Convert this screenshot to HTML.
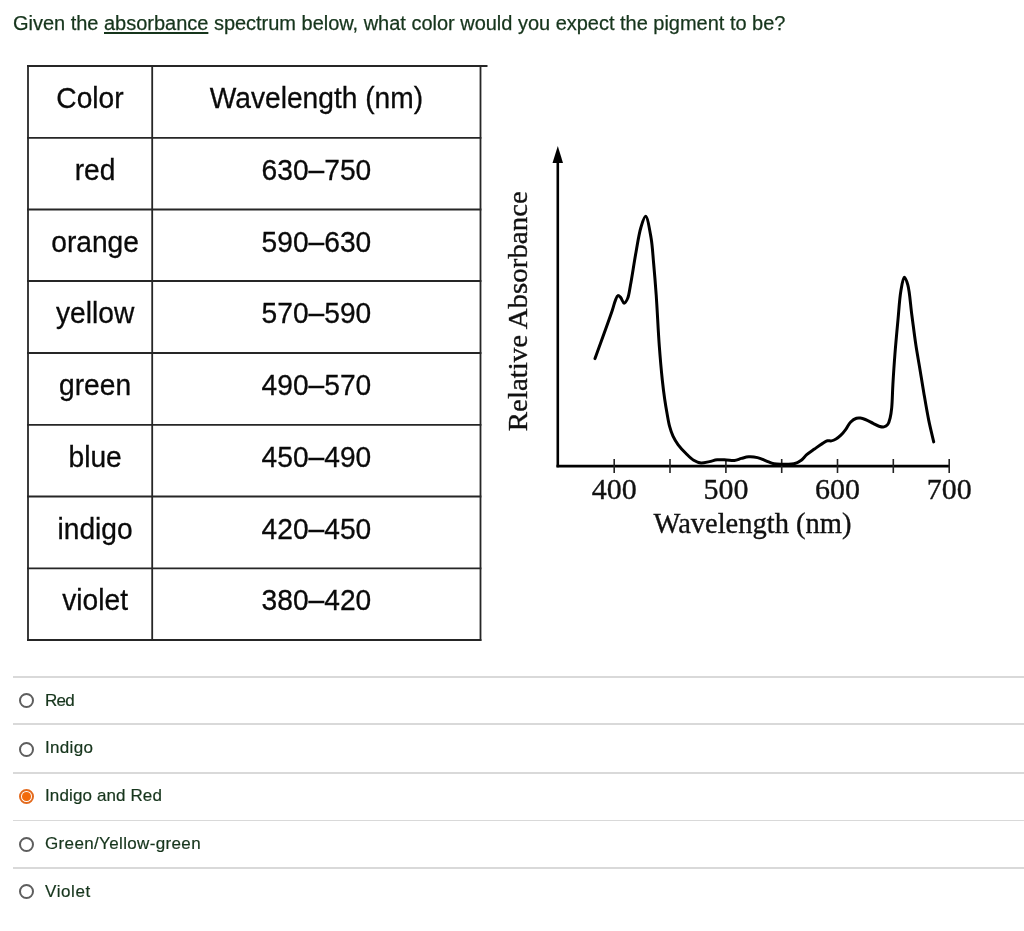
<!DOCTYPE html>
<html><head><meta charset="utf-8"><title>Absorbance question</title>
<style>
html,body{margin:0;padding:0;background:#fff;}
.q,.opt{will-change:transform;}
body{width:1024px;height:931px;position:relative;overflow:hidden;}
.q{position:absolute;left:13px;top:9px;font-family:"Liberation Sans",sans-serif;font-size:20px;letter-spacing:-0.017px;color:#16351c;white-space:nowrap;line-height:28px;-webkit-text-stroke:0.25px #16351c;}
.q u{text-decoration-thickness:1.8px;text-underline-offset:2px;}
svg{position:absolute;left:0;top:0;}
.sep{position:absolute;left:13px;right:0;height:1.5px;background:#d9d9d9;}
.radio{position:absolute;left:19px;width:11px;height:11px;border:2px solid #5e5e5e;border-radius:50%;box-sizing:content-box;}
.radio.sel{border-color:#e36a1d;}
.radio.sel::after{content:"";position:absolute;left:1.2px;top:1.2px;width:8.6px;height:8.6px;border-radius:50%;background:#f36b0c;}
.opt{position:absolute;left:45px;font-family:"Liberation Sans",sans-serif;font-size:17px;color:#16351c;line-height:28px;white-space:nowrap;-webkit-text-stroke:0.2px #16351c;}
</style></head><body>
<div class="q">Given the <u>absorbance</u> spectrum below, what color would you expect the pigment to be?</div>
<svg width="1024" height="931" viewBox="0 0 1024 931">
<g stroke="#262626" stroke-width="1.8">
<line x1="27.1" y1="66" x2="487.5" y2="66"/>
<line x1="27.1" y1="137.8" x2="481.4" y2="137.8"/>
<line x1="27.1" y1="209.5" x2="481.4" y2="209.5"/>
<line x1="27.1" y1="281" x2="481.4" y2="281"/>
<line x1="27.1" y1="353" x2="481.4" y2="353"/>
<line x1="27.1" y1="424.8" x2="481.4" y2="424.8"/>
<line x1="27.1" y1="496.5" x2="481.4" y2="496.5"/>
<line x1="27.1" y1="568.3" x2="481.4" y2="568.3"/>
<line x1="27.1" y1="640" x2="481.4" y2="640"/>
<line x1="28" y1="65.1" x2="28" y2="640.9"/>
<line x1="152.2" y1="65.1" x2="152.2" y2="640.9"/>
<line x1="480.5" y1="65.1" x2="480.5" y2="640.9"/>
</g>
<g font-family="Liberation Sans, sans-serif" font-size="29" fill="#0a0a0a" stroke="#0a0a0a" stroke-width="0.3" text-anchor="middle">
<text transform="translate(90,108.0) scale(0.972,1)">Color</text>
<text transform="translate(316.4,108.0) scale(0.972,1)">Wavelength (nm)</text>
<text transform="translate(95.1,179.8) scale(0.972,1)">red</text>
<text transform="translate(316.4,179.8) scale(0.972,1)">630–750</text>
<text transform="translate(95.1,251.5) scale(0.972,1)">orange</text>
<text transform="translate(316.4,251.5) scale(0.972,1)">590–630</text>
<text transform="translate(95.1,323.0) scale(0.972,1)">yellow</text>
<text transform="translate(316.4,323.0) scale(0.972,1)">570–590</text>
<text transform="translate(95.1,395.0) scale(0.972,1)">green</text>
<text transform="translate(316.4,395.0) scale(0.972,1)">490–570</text>
<text transform="translate(95.1,466.8) scale(0.972,1)">blue</text>
<text transform="translate(316.4,466.8) scale(0.972,1)">450–490</text>
<text transform="translate(95.1,538.5) scale(0.972,1)">indigo</text>
<text transform="translate(316.4,538.5) scale(0.972,1)">420–450</text>
<text transform="translate(95.1,610.3) scale(0.972,1)">violet</text>
<text transform="translate(316.4,610.3) scale(0.972,1)">380–420</text>
</g>
<g stroke="#000" stroke-width="2.6" fill="none">
<line x1="557.8" y1="160" x2="557.8" y2="467.2"/>
<line x1="556.5" y1="466.1" x2="949.5" y2="466.1"/>
</g>
<polygon points="557.8,146 552.5,163 563,163" fill="#000"/>
<g stroke="#222" stroke-width="1.6">
<line x1="614.2" y1="459" x2="614.2" y2="473"/>
<line x1="670.0" y1="459" x2="670.0" y2="473"/>
<line x1="725.9" y1="459" x2="725.9" y2="473"/>
<line x1="781.7" y1="459" x2="781.7" y2="473"/>
<line x1="837.5" y1="459" x2="837.5" y2="473"/>
<line x1="893.3" y1="459" x2="893.3" y2="473"/>
<line x1="949.2" y1="459" x2="949.2" y2="473"/>
</g>
<path d="M595.00,358.60 C600.80,342.40 609.06,320.03 612.40,310.00 C613.88,305.55 614.31,302.91 615.40,300.30 C616.19,298.41 616.89,295.86 617.90,295.60 C618.69,295.40 619.74,296.50 620.60,297.40 C621.85,298.70 622.89,303.14 624.10,303.20 C625.23,303.25 626.65,300.59 627.60,298.50 C629.03,295.35 629.37,290.85 630.40,285.50 C632.03,276.98 634.12,262.46 636.00,252.20 C637.62,243.34 638.90,234.05 640.90,227.50 C642.29,222.95 644.13,216.19 645.60,216.30 C647.57,216.45 649.68,230.06 651.00,237.50 C652.43,245.56 652.78,254.01 653.60,263.00 C654.52,273.06 655.35,283.09 656.20,295.00 C657.27,310.02 658.16,330.72 659.30,346.00 C660.23,358.49 661.27,370.27 662.30,380.00 C663.08,387.35 663.84,393.33 664.70,399.30 C665.45,404.49 666.25,409.14 667.10,413.80 C667.89,418.15 668.54,422.51 669.60,426.40 C670.55,429.88 671.56,433.02 673.00,436.10 C674.43,439.15 676.13,442.00 678.20,444.80 C680.42,447.81 683.33,450.85 686.00,453.50 C688.50,455.99 691.01,458.69 693.70,460.30 C696.04,461.70 698.45,462.76 701.00,463.00 C703.67,463.25 706.66,462.14 709.40,461.60 C712.06,461.07 714.46,460.08 717.20,459.80 C720.17,459.49 723.61,459.87 726.60,460.00 C729.32,460.12 731.89,460.78 734.40,460.50 C736.85,460.23 739.11,459.02 741.50,458.40 C743.88,457.78 746.17,456.96 748.70,456.80 C751.47,456.62 754.64,456.94 757.50,457.60 C760.40,458.27 763.21,459.75 766.00,460.80 C768.71,461.82 771.11,463.22 774.00,463.80 C777.19,464.44 781.00,464.21 784.40,464.20 C787.66,464.19 791.13,464.51 794.00,463.80 C796.56,463.16 798.81,461.98 800.90,460.50 C803.06,458.97 804.54,456.55 806.70,454.70 C809.04,452.70 811.89,450.86 814.50,449.00 C817.09,447.16 819.94,445.06 822.30,443.60 C824.15,442.46 825.75,441.20 827.40,440.80 C828.77,440.47 830.05,441.15 831.40,440.90 C832.91,440.62 834.50,439.87 836.00,439.00 C837.67,438.03 839.34,436.70 840.90,435.20 C842.63,433.53 844.22,431.41 845.80,429.30 C847.49,427.04 848.77,423.88 850.70,422.00 C852.40,420.34 854.69,418.88 856.50,418.30 C857.87,417.86 859.04,417.94 860.40,418.10 C861.95,418.28 863.51,418.80 865.30,419.50 C867.64,420.41 870.68,422.22 873.10,423.40 C875.20,424.42 877.08,425.62 879.00,426.20 C880.67,426.70 882.41,427.22 883.90,426.90 C885.34,426.59 886.79,425.67 887.80,424.40 C889.06,422.81 889.57,420.11 890.20,417.60 C890.94,414.66 891.29,411.78 891.70,407.80 C892.32,401.66 892.41,392.60 892.90,384.30 C893.45,374.95 894.10,364.74 894.90,354.50 C895.75,343.58 896.87,331.62 897.90,320.70 C898.87,310.43 899.50,298.77 900.90,290.80 C901.85,285.38 902.96,277.42 904.30,277.30 C905.34,277.20 906.79,281.43 907.80,284.90 C909.71,291.47 910.47,304.77 911.80,314.70 C913.13,324.63 914.39,335.12 915.80,344.50 C917.07,352.92 918.48,360.44 919.80,368.40 C921.12,376.34 922.29,383.96 923.70,392.20 C925.23,401.14 926.92,411.39 928.70,420.10 C930.28,427.83 932.03,434.63 933.70,441.90" fill="none" stroke="#000" stroke-width="3" stroke-linejoin="round" stroke-linecap="round"/>
<g font-family="Liberation Serif, serif" font-size="28" fill="#111" stroke="#111" stroke-width="0.35" text-anchor="middle">
<g font-size="30">
<text x="614.2" y="499">400</text>
<text x="725.9" y="499">500</text>
<text x="837.5" y="499">600</text>
<text x="949.2" y="499">700</text>
</g>
<text x="752.5" y="532.7" font-size="28.5">Wavelength (nm)</text>
<text transform="translate(527,311.2) rotate(-90)" textLength="240" lengthAdjust="spacingAndGlyphs">Relative Absorbance</text>
</g>
</svg>
<div class="sep" style="top:676.25px"></div>
<div class="sep" style="top:723.25px"></div>
<div class="sep" style="top:772.05px"></div>
<div class="sep" style="top:819.85px"></div>
<div class="sep" style="top:867.25px"></div>
<div class="radio" style="top:692.9px"></div>
<div class="opt" style="top:687.3px;letter-spacing:-0.7px">Red</div>
<div class="radio" style="top:741.9px"></div>
<div class="opt" style="top:734.0px;letter-spacing:0.33px">Indigo</div>
<div class="radio sel" style="top:789.1px"></div>
<div class="opt" style="top:781.6px;letter-spacing:0.12px">Indigo and Red</div>
<div class="radio" style="top:836.7px"></div>
<div class="opt" style="top:830.4px;letter-spacing:0.35px">Green/Yellow-green</div>
<div class="radio" style="top:883.9px"></div>
<div class="opt" style="top:878.1px;letter-spacing:0.6px">Violet</div>
</body></html>
